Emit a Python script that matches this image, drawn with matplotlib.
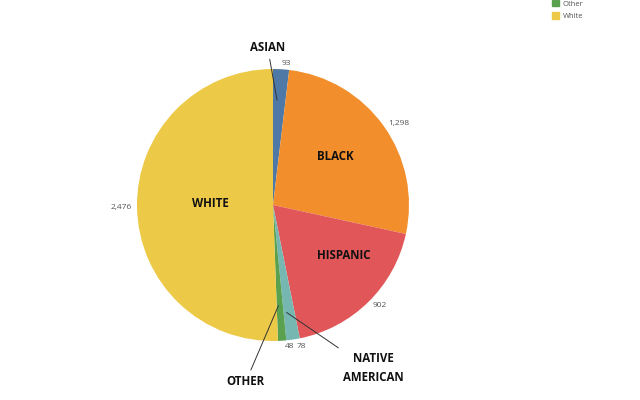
import matplotlib.pyplot as plt
import numpy as np

categories = ['Asian', 'Black', 'Hispanic', 'Native American', 'Other', 'White']
values = [93, 1298, 902, 78, 48, 2476]
value_labels = ['93', '1,298', '902', '78', '48', '2,476']
colors = ['#4e79a7', '#f28e2b', '#e15759', '#76b7b2', '#59a14f', '#edc948']

plt.rcParams['font.family'] = ['Open Sans', 'DejaVu Sans']

fig = plt.figure(figsize=(6.4, 4.0), dpi=100)
# pie centre ~ (273, 205) px, radius ~136 px
cx, cy, r = 273 / 640, 1 - 205 / 400, 136
ax = fig.add_axes([cx - 1.1 * r / 640, cy - 1.1 * r / 400, 2.2 * r / 640, 2.2 * r / 400])

wedges, texts = ax.pie(values, colors=colors, startangle=90, counterclock=False,
                       labels=value_labels, labeldistance=1.04,
                       textprops=dict(fontsize=6, color='#555555'))
ax.set_xlim(-1.1, 1.1)
ax.set_ylim(-1.1, 1.1)
ax.set_aspect('auto')
ax.axis('off')

# nudge the two tiny slice labels apart
texts[3].set_position((0.17, -1.04))
texts[3].set_ha('left')
texts[4].set_position((0.16, -1.04))
texts[4].set_ha('right')

bold = dict(fontsize=8.3, fontweight='bold', color='#111111', ha='center', va='center')
ax.text(0.46, 0.36, 'BLACK', **bold)
ax.text(0.52, -0.37, 'HISPANIC', **bold)
ax.text(-0.46, 0.01, 'WHITE', **bold)

line = dict(arrowstyle='-', color='#333333', lw=0.7, shrinkA=2, shrinkB=0)
ax.annotate('ASIAN', xy=(0.03, 0.77), xytext=(-0.04, 1.16), arrowprops=line, **bold)
ax.annotate('NATIVE\nAMERICAN', xy=(0.10, -0.79), xytext=(0.74, -1.2),
            arrowprops=dict(line, relpos=(0.1, 0.9)), linespacing=1.6, **bold)
ax.annotate('OTHER', xy=(0.04, -0.74), xytext=(-0.2, -1.3), arrowprops=line, **bold)

handles = [plt.Rectangle((0, 0), 1, 1, color=c) for c in colors]
fig.legend(handles, categories, loc='lower left', bbox_to_anchor=(548 / 640, 1 - 24 / 400),
           frameon=False, fontsize=5.5, handlelength=0.9, handleheight=0.9,
           labelspacing=0.6, handletextpad=0.5, labelcolor='#555555', borderpad=0)

fig.savefig('out.png', dpi=100)
